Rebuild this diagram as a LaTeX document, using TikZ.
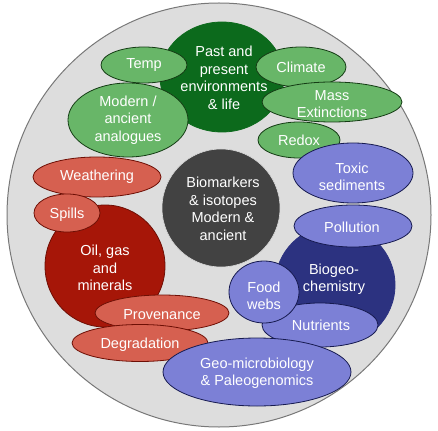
\documentclass[tikz,border=0pt]{standalone}
\usepackage{fontspec}
\setmainfont{Liberation Sans}
\usepackage{tikz}
\usetikzlibrary{shapes.geometric}
\definecolor{bgfill}{RGB}{221,221,221}
\definecolor{bgline}{RGB}{120,120,120}
\definecolor{dgreen}{RGB}{12,106,28}
\definecolor{lgreen}{RGB}{104,182,104}
\definecolor{lgline}{RGB}{20,60,20}
\definecolor{dred}{RGB}{166,22,8}
\definecolor{lred}{RGB}{214,96,80}
\definecolor{lrline}{RGB}{110,15,5}
\definecolor{dblue}{RGB}{44,50,128}
\definecolor{lblue}{RGB}{124,128,214}
\definecolor{lbline}{RGB}{22,26,80}
\definecolor{dcore}{RGB}{66,66,66}
\tikzset{
  txt/.style = {align=center, text=white, inner sep=0pt,
    font=\fontsize{14.5}{17.5}\selectfont},
  blob/.style = {ellipse, inner sep=0pt, line width=0.8pt},
  big_g/.style = {blob, fill=dgreen, draw=dgreen},% grand cercle vert
  big_r/.style = {blob, fill=dred, draw=lrline},% grand cercle rouge
  big_b/.style = {blob, fill=dblue, draw=dblue},% grand cercle bleu
  el_g/.style = {blob, fill=lgreen, draw=lgline},% ellipse verte
  el_r/.style = {blob, fill=lred, draw=lrline},% ellipse rouge
  el_b/.style = {blob, fill=lblue, draw=lbline}% ellipse bleue
}
\begin{document}
\begin{tikzpicture}[x=1pt,y=-1pt]
\useasboundingbox (0,0) rectangle (438,430);
\node [circle, fill=bgfill, draw=bgline, line width=1pt, minimum size=424pt] (disc) at (219,215) {};
% environnements
\node [big_g, minimum width=124pt, minimum height=110pt] (env) at (222,77) {};
\node [txt] at (224,78) {Past and\\present\\environments\\\& life};
\node [el_g, minimum width=86pt, minimum height=36pt] (temp) at (144,65) {};
\node [txt] at (temp) {Temp};
\node [el_g, minimum width=120pt, minimum height=74pt] (analog) at (128,120) {};
\node [txt] at (analog) {Modern /\\ancient\\analogues};
\node [el_g, minimum width=90pt, minimum height=40pt] (climate) at (301,67) {};
\node [txt] at (climate) {Climate};
\node [el_g, minimum width=140pt, minimum height=40pt] (mass) at (332,102) {};
\node [txt] at (332,104) {Mass\\Extinctions};
\node [el_g, minimum width=82pt, minimum height=36pt] (redox) at (299,140) {};
\node [txt] at (redox) {Redox};
% coeur
\node [circle, fill=dcore, draw=white!80!dcore, line width=0.6pt, minimum size=118pt] (core) at (221,208) {};
\node [txt] at (223,209) {Biomarkers\\\& isotopes\\Modern \&\\ancient};
% petrole
\node [el_r, minimum width=128pt, minimum height=40pt] (weather) at (97,177) {};
\node [txt] at (weather) {Weathering};
\node [big_r, minimum width=120pt, minimum height=122pt] (oil) at (105,266) {};
\node [txt] at (105,268) {Oil, gas\\and\\minerals};
\node [el_r, minimum width=66pt, minimum height=38pt] (spills) at (67,213) {};
\node [txt] at (67,215) {Spills};
\node [el_r, minimum width=134pt, minimum height=36pt] (prov) at (162,313) {};
\node [txt] at (162,315) {Provenance};
\node [el_r, minimum width=136pt, minimum height=37pt] (degrad) at (140,343) {};
\node [txt] at (140,345) {Degradation};
% biogeochimie
\node [el_b, minimum width=120pt, minimum height=60pt] (toxic) at (353,173) {};
\node [txt] at (352,177) {Toxic\\sediments};
\node [big_b, minimum width=120pt, minimum height=120pt] (biogeo) at (335,285) {};
\node [txt] at (334,279) {Biogeo-\\chemistry};
\node [el_b, minimum width=118pt, minimum height=42pt] (pollu) at (353,226) {};
\node [txt] at (352,227) {Pollution};
\node [el_b, minimum width=116pt, minimum height=44pt] (nutri) at (320,325) {};
\node [txt] at (321,325) {Nutrients};
\node [el_b, minimum width=70pt, minimum height=62pt] (food) at (264,292) {};
\node [txt] at (264,296) {Food\\webs};
\node [el_b, minimum width=188pt, minimum height=68pt] (geomic) at (257,372) {};
\node [txt] at (257,373) {Geo-microbiology\\\& Paleogenomics};
\end{tikzpicture}
\end{document}
